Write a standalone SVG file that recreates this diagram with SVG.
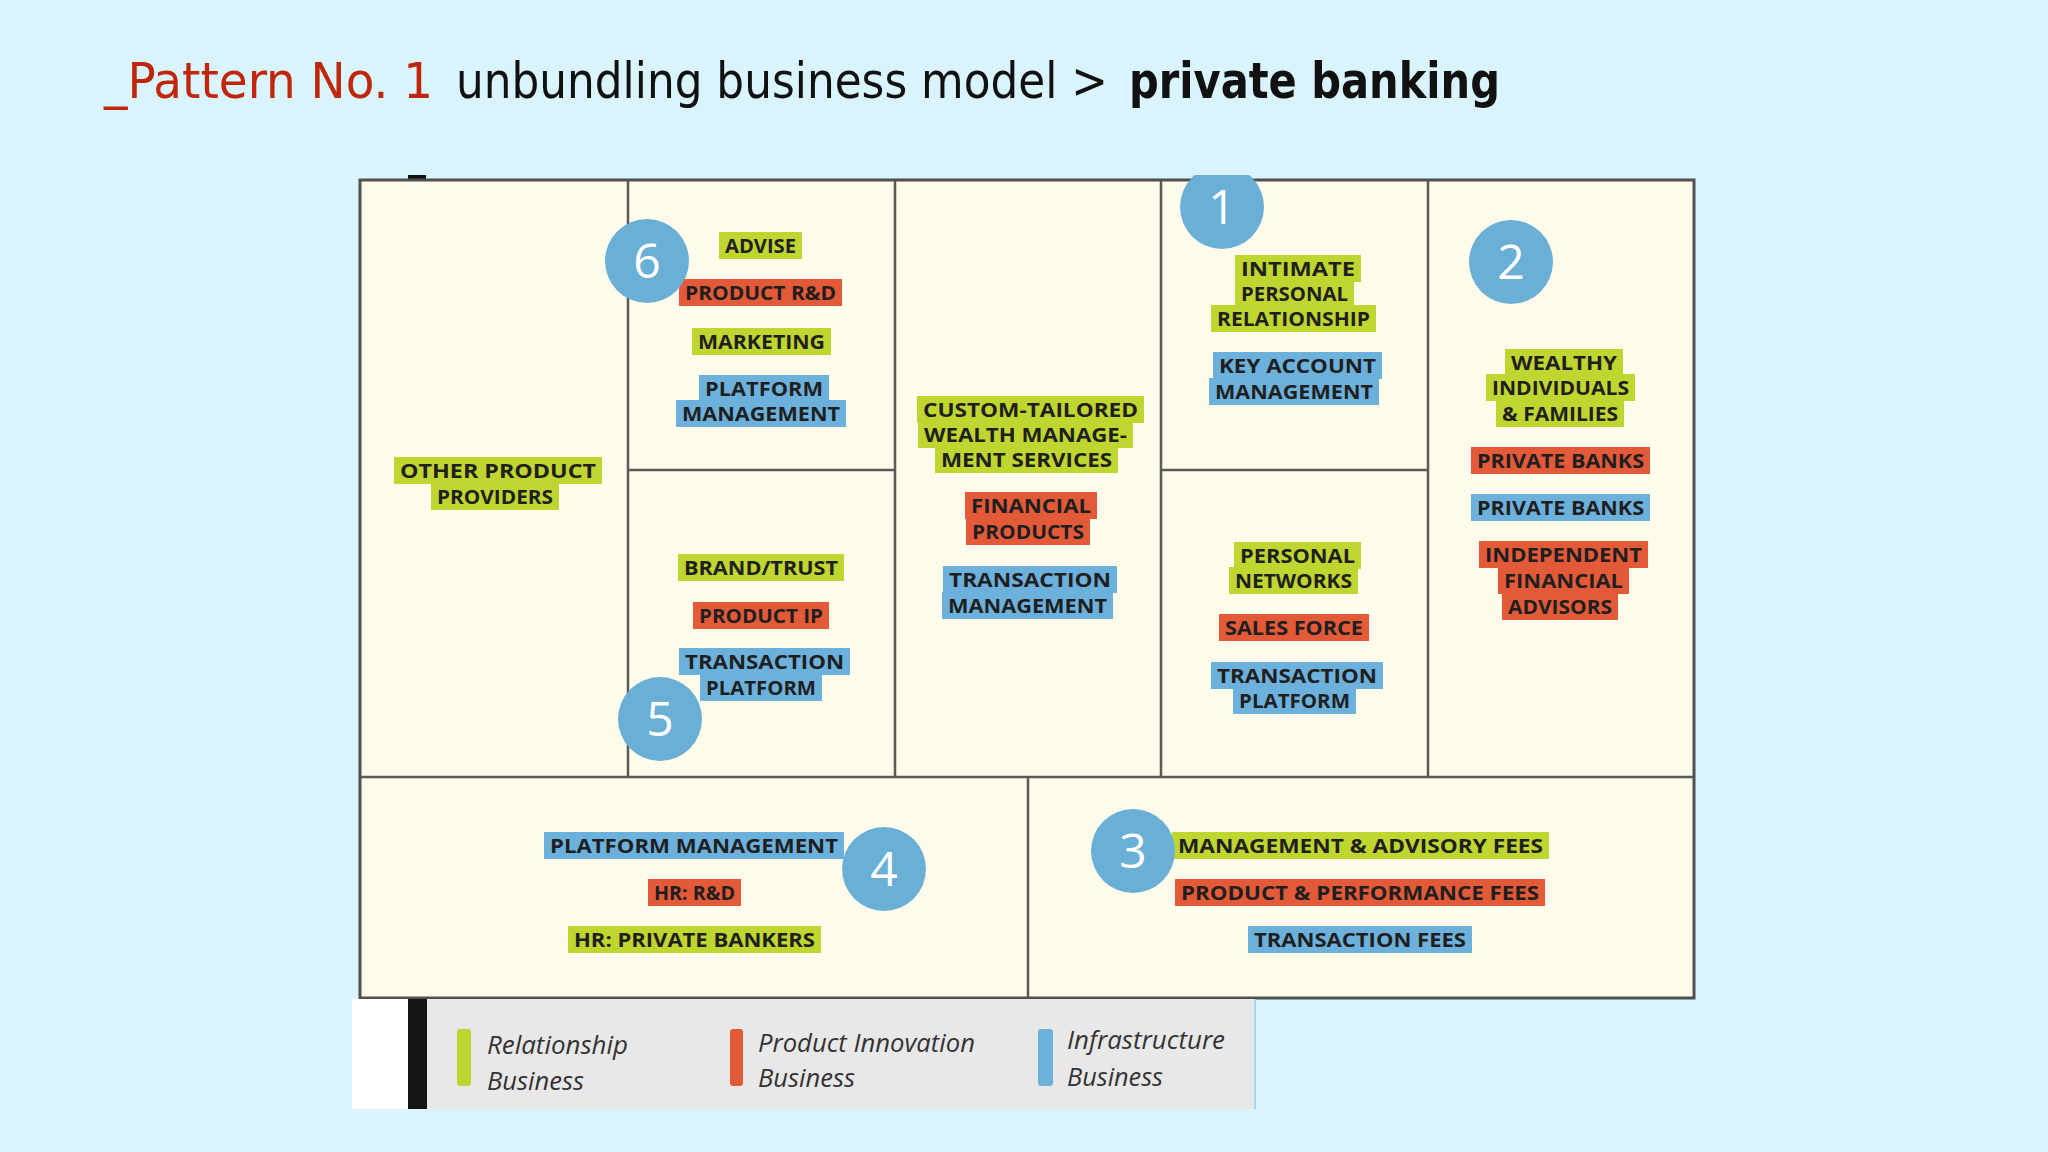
<svg xmlns="http://www.w3.org/2000/svg" width="2048" height="1152" viewBox="0 0 2048 1152">
<defs>
<style>
.bg{fill:#d9f4fd}
.cell{fill:#fffbea}
.frame{fill:none;stroke:#505050;stroke-width:3}
.div{stroke:#5a5a5a;stroke-width:2.5;fill:none}
.g{fill:#bfd530}
.r{fill:#e35a39}
.b{fill:#6cb1dc}
.t{font-family:"Open Sans","DejaVu Sans",sans-serif;font-weight:700;font-size:20px;fill:#1f1f1f;text-anchor:middle}
.circ{fill:#6aafd6}
.num{font-family:"Open Sans","DejaVu Sans",sans-serif;font-size:48px;fill:#ffffff;text-anchor:middle}
.leg{font-family:"Open Sans","DejaVu Sans",sans-serif;font-style:italic;font-size:25px;fill:#333333}
.title{font-family:"DejaVu Sans Condensed","DejaVu Sans",sans-serif;font-size:50px}
</style>
<clipPath id="clip1"><rect x="1170" y="175" width="110" height="100"/></clipPath>
</defs>
<rect class="bg" x="0" y="0" width="2048" height="1152"/>

<g id="title">
<text class="title" x="104" y="98" fill="#c0260c" textLength="329" lengthAdjust="spacingAndGlyphs">_Pattern No. 1</text>
<text class="title" x="456" y="98" fill="#111111" textLength="652" lengthAdjust="spacingAndGlyphs">unbundling business model &gt;</text>
<text class="title" x="1129" y="98" fill="#111111" font-weight="700" textLength="371" lengthAdjust="spacingAndGlyphs">private banking</text>
</g>

<g id="canvas-frame">
<rect class="cell" x="360" y="180" width="1334" height="818"/>
<rect x="408" y="175" width="18" height="6" fill="#111"/>
<line class="div" x1="628" y1="180" x2="628" y2="777"/>
<line class="div" x1="895" y1="180" x2="895" y2="777"/>
<line class="div" x1="1161" y1="180" x2="1161" y2="777"/>
<line class="div" x1="1428" y1="180" x2="1428" y2="777"/>
<line class="div" x1="628" y1="470" x2="895" y2="470"/>
<line class="div" x1="1161" y1="470" x2="1428" y2="470"/>
<line class="div" x1="360" y1="777" x2="1694" y2="777"/>
<line class="div" x1="1028" y1="777" x2="1028" y2="998"/>
<rect class="frame" x="360" y="180" width="1334" height="818"/>
</g>

<g id="connectors"/>

<g id="key-partners">
<rect class="g" x="394" y="457" width="208" height="27"/>
<text class="t" x="498" y="478" textLength="196" lengthAdjust="spacingAndGlyphs">OTHER PRODUCT</text>
<rect class="g" x="431" y="483" width="128" height="27"/>
<text class="t" x="495" y="504" textLength="116" lengthAdjust="spacingAndGlyphs">PROVIDERS</text>
</g>

<g id="key-activities">
<rect class="g" x="719" y="232" width="83" height="27"/>
<text class="t" x="760.5" y="253" textLength="71" lengthAdjust="spacingAndGlyphs">ADVISE</text>
<rect class="r" x="679" y="279" width="163" height="27"/>
<text class="t" x="760.5" y="300" textLength="151" lengthAdjust="spacingAndGlyphs">PRODUCT R&amp;D</text>
<rect class="g" x="692" y="328" width="139" height="27"/>
<text class="t" x="761.5" y="349" textLength="127" lengthAdjust="spacingAndGlyphs">MARKETING</text>
<rect class="b" x="699" y="375" width="130" height="27"/>
<rect class="b" x="676" y="400" width="170" height="27"/>
<text class="t" x="764" y="396" textLength="118" lengthAdjust="spacingAndGlyphs">PLATFORM</text>
<text class="t" x="761" y="421" textLength="158" lengthAdjust="spacingAndGlyphs">MANAGEMENT</text>
</g>

<g id="key-resources">
<rect class="g" x="678" y="554" width="166" height="27"/>
<text class="t" x="761" y="575" textLength="154" lengthAdjust="spacingAndGlyphs">BRAND/TRUST</text>
<rect class="r" x="693" y="602" width="136" height="27"/>
<text class="t" x="761" y="623" textLength="124" lengthAdjust="spacingAndGlyphs">PRODUCT IP</text>
<rect class="b" x="679" y="648" width="171" height="27"/>
<rect class="b" x="700" y="674" width="122" height="27"/>
<text class="t" x="764.5" y="669" textLength="159" lengthAdjust="spacingAndGlyphs">TRANSACTION</text>
<text class="t" x="761" y="695" textLength="110" lengthAdjust="spacingAndGlyphs">PLATFORM</text>
</g>

<g id="value-proposition">
<rect class="g" x="917" y="396" width="227" height="27"/>
<rect class="g" x="918" y="421" width="215" height="27"/>
<rect class="g" x="935" y="446" width="183" height="27"/>
<text class="t" x="1030.5" y="417" textLength="215" lengthAdjust="spacingAndGlyphs">CUSTOM-TAILORED</text>
<text class="t" x="1025.5" y="442" textLength="203" lengthAdjust="spacingAndGlyphs">WEALTH MANAGE-</text>
<text class="t" x="1026.5" y="467" textLength="171" lengthAdjust="spacingAndGlyphs">MENT SERVICES</text>
<rect class="r" x="965" y="492" width="132" height="27"/>
<rect class="r" x="966" y="518" width="124" height="27"/>
<text class="t" x="1031" y="513" textLength="120" lengthAdjust="spacingAndGlyphs">FINANCIAL</text>
<text class="t" x="1028" y="539" textLength="112" lengthAdjust="spacingAndGlyphs">PRODUCTS</text>
<rect class="b" x="943" y="566" width="174" height="27"/>
<rect class="b" x="942" y="592" width="171" height="27"/>
<text class="t" x="1030" y="587" textLength="162" lengthAdjust="spacingAndGlyphs">TRANSACTION</text>
<text class="t" x="1027.5" y="613" textLength="159" lengthAdjust="spacingAndGlyphs">MANAGEMENT</text>
</g>

<g id="customer-relationships">
<rect class="g" x="1235" y="255" width="126" height="27"/>
<rect class="g" x="1235" y="280" width="119" height="27"/>
<rect class="g" x="1211" y="305" width="165" height="27"/>
<text class="t" x="1298" y="276" textLength="114" lengthAdjust="spacingAndGlyphs">INTIMATE</text>
<text class="t" x="1294.5" y="301" textLength="107" lengthAdjust="spacingAndGlyphs">PERSONAL</text>
<text class="t" x="1293.5" y="326" textLength="153" lengthAdjust="spacingAndGlyphs">RELATIONSHIP</text>
<rect class="b" x="1213" y="352" width="169" height="27"/>
<rect class="b" x="1209" y="378" width="170" height="27"/>
<text class="t" x="1297.5" y="373" textLength="157" lengthAdjust="spacingAndGlyphs">KEY ACCOUNT</text>
<text class="t" x="1294" y="399" textLength="158" lengthAdjust="spacingAndGlyphs">MANAGEMENT</text>
</g>

<g id="channels">
<rect class="g" x="1234" y="542" width="127" height="27"/>
<rect class="g" x="1229" y="567" width="129" height="27"/>
<text class="t" x="1297.5" y="563" textLength="115" lengthAdjust="spacingAndGlyphs">PERSONAL</text>
<text class="t" x="1293.5" y="588" textLength="117" lengthAdjust="spacingAndGlyphs">NETWORKS</text>
<rect class="r" x="1219" y="614" width="150" height="27"/>
<text class="t" x="1294" y="635" textLength="138" lengthAdjust="spacingAndGlyphs">SALES FORCE</text>
<rect class="b" x="1211" y="662" width="172" height="27"/>
<rect class="b" x="1233" y="687" width="123" height="27"/>
<text class="t" x="1297" y="683" textLength="160" lengthAdjust="spacingAndGlyphs">TRANSACTION</text>
<text class="t" x="1294.5" y="708" textLength="111" lengthAdjust="spacingAndGlyphs">PLATFORM</text>
</g>

<g id="customer-segments">
<rect class="g" x="1505" y="349" width="118" height="27"/>
<rect class="g" x="1486" y="374" width="149" height="27"/>
<rect class="g" x="1496" y="400" width="128" height="27"/>
<text class="t" x="1564" y="370" textLength="106" lengthAdjust="spacingAndGlyphs">WEALTHY</text>
<text class="t" x="1560.5" y="395" textLength="137" lengthAdjust="spacingAndGlyphs">INDIVIDUALS</text>
<text class="t" x="1560" y="421" textLength="116" lengthAdjust="spacingAndGlyphs">&amp; FAMILIES</text>
<rect class="r" x="1471" y="447" width="179" height="27"/>
<text class="t" x="1560.5" y="468" textLength="167" lengthAdjust="spacingAndGlyphs">PRIVATE BANKS</text>
<rect class="b" x="1471" y="494" width="179" height="27"/>
<text class="t" x="1560.5" y="515" textLength="167" lengthAdjust="spacingAndGlyphs">PRIVATE BANKS</text>
<rect class="r" x="1479" y="541" width="169" height="27"/>
<rect class="r" x="1498" y="567" width="131" height="27"/>
<rect class="r" x="1502" y="593" width="116" height="27"/>
<text class="t" x="1563.5" y="562" textLength="157" lengthAdjust="spacingAndGlyphs">INDEPENDENT</text>
<text class="t" x="1563.5" y="588" textLength="119" lengthAdjust="spacingAndGlyphs">FINANCIAL</text>
<text class="t" x="1560" y="614" textLength="104" lengthAdjust="spacingAndGlyphs">ADVISORS</text>
</g>

<g id="cost-structure">
<rect class="b" x="544" y="832" width="300" height="27"/>
<text class="t" x="694" y="853" textLength="288" lengthAdjust="spacingAndGlyphs">PLATFORM MANAGEMENT</text>
<rect class="r" x="648" y="879" width="93" height="27"/>
<text class="t" x="694.5" y="900" textLength="81" lengthAdjust="spacingAndGlyphs">HR: R&amp;D</text>
<rect class="g" x="568" y="926" width="253" height="27"/>
<text class="t" x="694.5" y="947" textLength="241" lengthAdjust="spacingAndGlyphs">HR: PRIVATE BANKERS</text>
</g>

<g id="revenue-streams">
<rect class="g" x="1172" y="832" width="377" height="27"/>
<text class="t" x="1360.5" y="853" textLength="365" lengthAdjust="spacingAndGlyphs">MANAGEMENT &amp; ADVISORY FEES</text>
<rect class="r" x="1175" y="879" width="370" height="27"/>
<text class="t" x="1360" y="900" textLength="358" lengthAdjust="spacingAndGlyphs">PRODUCT &amp; PERFORMANCE FEES</text>
<rect class="b" x="1248" y="926" width="224" height="27"/>
<text class="t" x="1360" y="947" textLength="212" lengthAdjust="spacingAndGlyphs">TRANSACTION FEES</text>
</g>

<g id="badge-1" clip-path="url(#clip1)">
<circle class="circ" cx="1222" cy="207" r="42"/>
<text class="num" x="1222" y="224">1</text>
</g>
<g id="badge-2">
<circle class="circ" cx="1511" cy="262" r="42"/>
<text class="num" x="1511" y="279">2</text>
</g>
<g id="badge-3">
<circle class="circ" cx="1133" cy="851" r="42"/>
<text class="num" x="1133" y="868">3</text>
</g>
<g id="badge-4">
<circle class="circ" cx="884" cy="869" r="42"/>
<text class="num" x="884" y="886">4</text>
</g>
<g id="badge-5">
<circle class="circ" cx="660" cy="719" r="42"/>
<text class="num" x="660" y="736">5</text>
</g>
<g id="badge-6">
<circle class="circ" cx="647" cy="261" r="42"/>
<text class="num" x="647" y="278">6</text>
</g>

<g id="legend">
<rect x="352" y="999" width="56" height="110" fill="#ffffff"/>
<rect x="408" y="999" width="19" height="110" fill="#151515"/>
<rect x="427" y="999" width="828" height="110" fill="#e8e8e8"/>
<line x1="1255" y1="999" x2="1255" y2="1109" stroke="#a8d4ec" stroke-width="2"/>
<rect class="g" x="457" y="1029" width="14" height="57" rx="3"/>
<text class="leg" x="487" y="1054" textLength="141" lengthAdjust="spacingAndGlyphs">Relationship</text>
<text class="leg" x="487" y="1090" textLength="97" lengthAdjust="spacingAndGlyphs">Business</text>
<rect class="r" x="730" y="1029" width="13" height="57" rx="3"/>
<text class="leg" x="758" y="1052" textLength="217" lengthAdjust="spacingAndGlyphs">Product Innovation</text>
<text class="leg" x="758" y="1087" textLength="97" lengthAdjust="spacingAndGlyphs">Business</text>
<rect class="b" x="1038" y="1029" width="15" height="57" rx="3"/>
<text class="leg" x="1067" y="1049" textLength="158" lengthAdjust="spacingAndGlyphs">Infrastructure</text>
<text class="leg" x="1067" y="1086" textLength="96" lengthAdjust="spacingAndGlyphs">Business</text>
</g>
</svg>
